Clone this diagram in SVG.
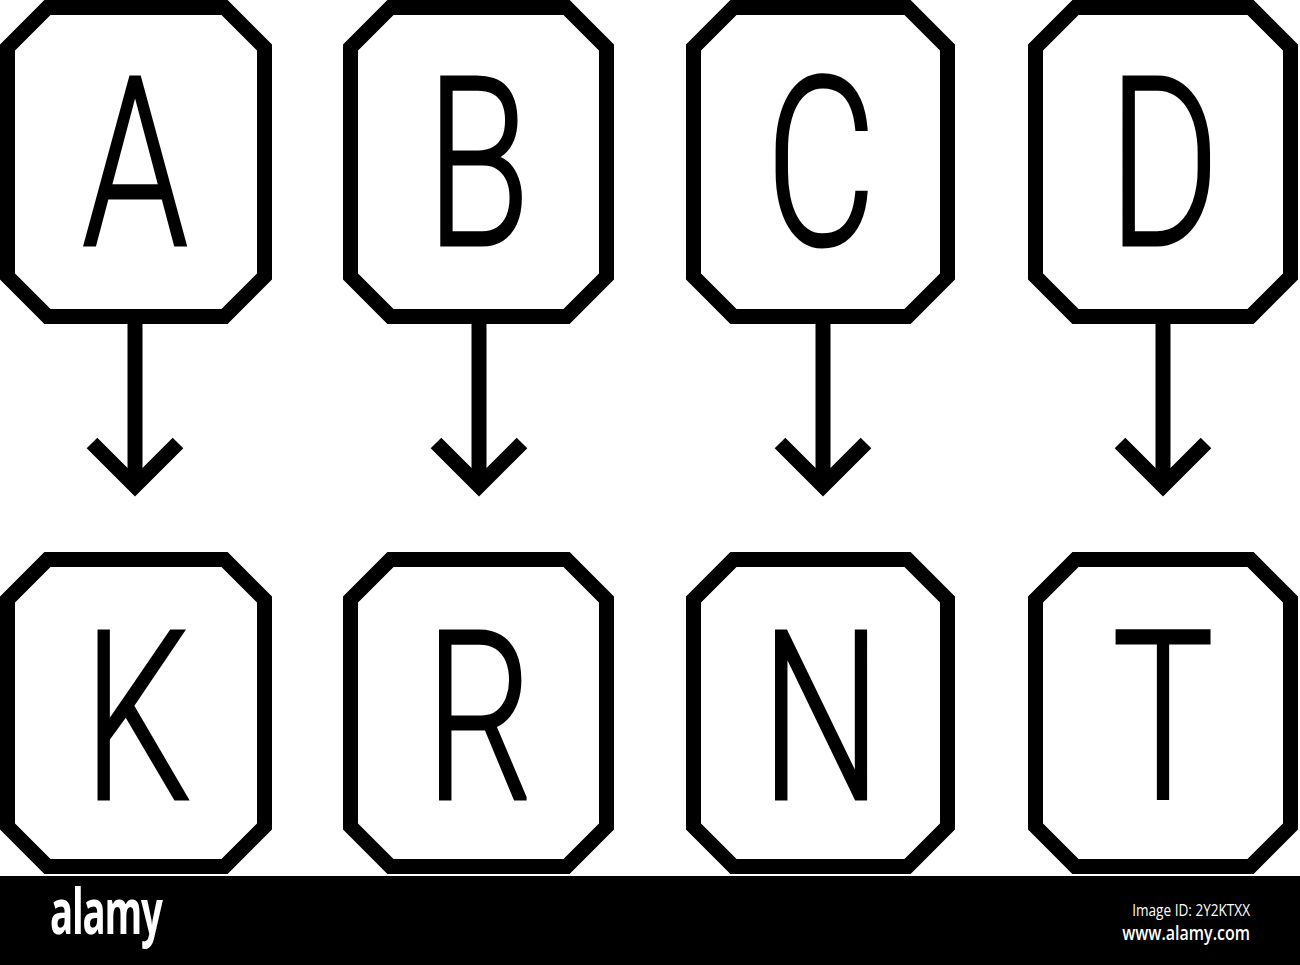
<svg xmlns="http://www.w3.org/2000/svg" width="1300" height="965" viewBox="0 0 1300 965">
<style>
.oct{fill:#fff;stroke:#000;stroke-width:15;stroke-linejoin:miter}
.lt{font-family:Roboto,"Liberation Sans",sans-serif;font-size:236px;font-weight:300;fill:#000;stroke:#000;stroke-width:3;text-anchor:middle}
.ar{fill:none;stroke:#000;stroke-width:15;stroke-linejoin:miter;stroke-linecap:butt}
.wm{font-family:"Open Sans","Liberation Sans",sans-serif;fill:#fff}
</style>
<rect width="1300" height="965" fill="#fff"/>
<g id="connectors">
<g class="ar"><line x1="135" y1="322" x2="135" y2="486"/><polyline points="92,443 135,486 178,443"/></g>
<g class="ar"><line x1="479" y1="322" x2="479" y2="486"/><polyline points="436,443 479,486 522,443"/></g>
<g class="ar"><line x1="823" y1="322" x2="823" y2="486"/><polyline points="780,443 823,486 866,443"/></g>
<g class="ar"><line x1="1163" y1="322" x2="1163" y2="486"/><polyline points="1120,443 1163,486 1206,443"/></g>
</g>
<g id="node-A"><polygon class="oct" points="47.5,7.5 224.5,7.5 264.5,47.5 264.5,276.5 224.5,316.5 47.5,316.5 7.5,276.5 7.5,47.5"/><text class="lt" transform="translate(135,245) scale(0.72,1)">A</text></g>
<g id="node-B"><polygon class="oct" points="390.5,7.5 566.5,7.5 606.5,47.5 606.5,276.5 566.5,316.5 390.5,316.5 350.5,276.5 350.5,47.5"/><text class="lt" transform="translate(478,245) scale(0.72,1)">B</text></g>
<g id="node-C"><polygon class="oct" points="733.5,7.5 907.5,7.5 947.5,47.5 947.5,276.5 907.5,316.5 733.5,316.5 693.5,276.5 693.5,47.5"/><text class="lt" transform="translate(821,245) scale(0.72,1)">C</text></g>
<g id="node-D"><polygon class="oct" points="1075.5,7.5 1250.5,7.5 1290.5,47.5 1290.5,276.5 1250.5,316.5 1075.5,316.5 1035.5,276.5 1035.5,47.5"/><text class="lt" transform="translate(1164,245) scale(0.72,1)">D</text></g>
<g id="node-K"><polygon class="oct" points="47.5,559.5 224.5,559.5 264.5,599.5 264.5,826.5 224.5,866.5 47.5,866.5 7.5,826.5 7.5,599.5"/><text class="lt" transform="translate(137,799) scale(0.72,1)">K</text></g>
<g id="node-R"><polygon class="oct" points="390.5,559.5 566.5,559.5 606.5,599.5 606.5,826.5 566.5,866.5 390.5,866.5 350.5,826.5 350.5,599.5"/><text class="lt" transform="translate(479,799) scale(0.72,1)">R</text></g>
<g id="node-N"><polygon class="oct" points="733.5,559.5 907.5,559.5 947.5,599.5 947.5,826.5 907.5,866.5 733.5,866.5 693.5,826.5 693.5,599.5"/><text class="lt" transform="translate(821,799) scale(0.72,1)">N</text></g>
<g id="node-T"><polygon class="oct" points="1075.5,559.5 1250.5,559.5 1290.5,599.5 1290.5,826.5 1250.5,866.5 1075.5,866.5 1035.5,826.5 1035.5,599.5"/><text class="lt" transform="translate(1163,799) scale(0.72,1)">T</text></g>
<g id="watermark-bar">
<rect x="0" y="876" width="1300" height="89" fill="#000"/>
<text class="wm" transform="translate(50,934) scale(0.62,1)" font-size="62" font-weight="700" letter-spacing="-2">alamy</text>
<text class="wm" transform="translate(1250,916) scale(0.8,1)" font-size="17" text-anchor="end">Image ID: 2Y2KTXX</text>
<text class="wm" transform="translate(1250,940) scale(0.8,1)" font-size="20" font-weight="600" text-anchor="end">www.alamy.com</text>
</g>
</svg>
